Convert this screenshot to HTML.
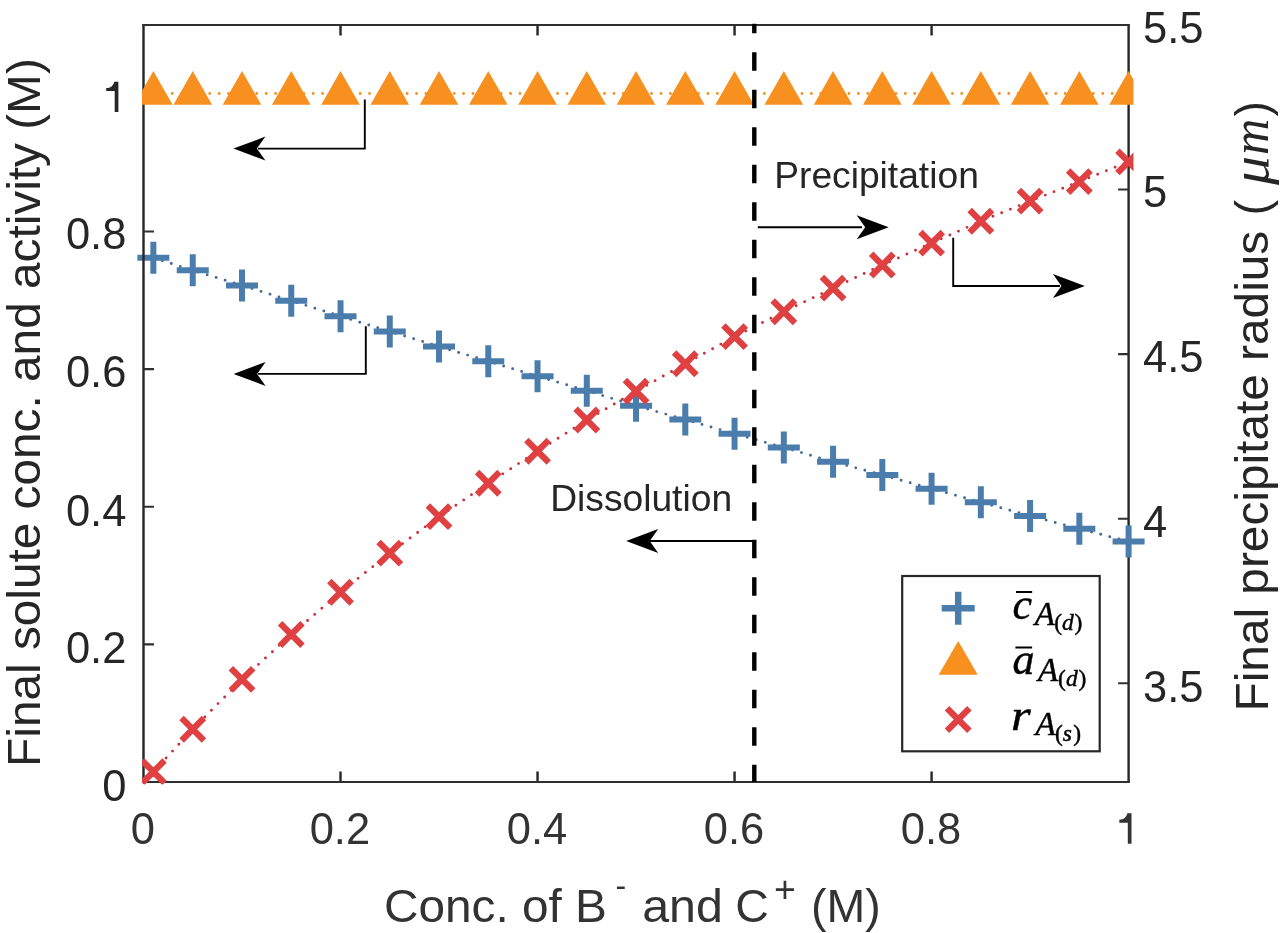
<!DOCTYPE html>
<html><head><meta charset="utf-8"><style>
html,body{margin:0;padding:0;background:#fff;width:1280px;height:933px;overflow:hidden}
svg{display:block;filter:blur(0.5px)}
</style></head><body>
<svg width="1280" height="933" viewBox="0 0 1280 933">
<rect width="1280" height="933" fill="#fff"/>
<defs><clipPath id="cr"><rect x="142" y="0" width="991.5" height="784.5"/></clipPath></defs>
<path d="M1128.6 24.0V783.0" stroke="#262626" stroke-width="2.4" fill="none"/>
<path d="M1128.6 683.26H1118.1M1128.6 518.70H1118.1M1128.6 354.13H1118.1M1128.6 189.57H1118.1" stroke="#303030" stroke-width="2.1" fill="none"/>
<polyline points="153.35,257.80 192.75,270.30 242.01,285.50 291.26,300.75 340.52,316.25 389.77,331.50 439.03,346.60 488.28,361.25 537.54,376.25 586.79,390.75 636.05,405.75 685.30,419.60 734.56,433.75 783.81,447.50 833.07,461.75 882.32,475.00 931.58,488.75 980.83,502.30 1030.09,515.90 1079.34,528.75 1128.60,541.60" fill="none" stroke="#3d6a96" stroke-width="2.9" stroke-linecap="round" stroke-dasharray="0 9.4"/>
<path d="M137.35 257.80H169.35M153.35 241.80V273.80M176.75 270.30H208.75M192.75 254.30V286.30M226.01 285.50H258.01M242.01 269.50V301.50M275.26 300.75H307.26M291.26 284.75V316.75M324.52 316.25H356.52M340.52 300.25V332.25M373.77 331.50H405.77M389.77 315.50V347.50M423.03 346.60H455.03M439.03 330.60V362.60M472.28 361.25H504.28M488.28 345.25V377.25M521.54 376.25H553.54M537.54 360.25V392.25M570.79 390.75H602.79M586.79 374.75V406.75M620.05 405.75H652.05M636.05 389.75V421.75M669.30 419.60H701.30M685.30 403.60V435.60M718.56 433.75H750.56M734.56 417.75V449.75M767.81 447.50H799.81M783.81 431.50V463.50M817.07 461.75H849.07M833.07 445.75V477.75M866.32 475.00H898.32M882.32 459.00V491.00M915.58 488.75H947.58M931.58 472.75V504.75M964.83 502.30H996.83M980.83 486.30V518.30M1014.09 515.90H1046.09M1030.09 499.90V531.90M1063.34 528.75H1095.34M1079.34 512.75V544.75M1112.60 541.60H1144.60M1128.60 525.60V557.60" stroke="#4b7dac" stroke-width="6" fill="none"/>
<path d="M143.5 24.0V783.0M340.52 782.0V771.5M340.52 25.0V35.5M537.54 782.0V771.5M537.54 25.0V35.5M734.56 782.0V771.5M734.56 25.0V35.5M931.58 782.0V771.5M931.58 25.0V35.5" stroke="#262626" stroke-width="2.4" fill="none"/>
<path d="M142.3 25.0H1129.8M142.3 782.0H1129.8M143.5 644.36H154.0M143.5 506.73H154.0M143.5 369.09H154.0M143.5 231.45H154.0M143.5 93.82H154.0" stroke="#303030" stroke-width="2.1" fill="none"/>
<g clip-path="url(#cr)">
<polyline points="153.35,93.50 192.75,93.50 242.01,93.50 291.26,93.50 340.52,93.50 389.77,93.50 439.03,93.50 488.28,93.50 537.54,93.50 586.79,93.50 636.05,93.50 685.30,93.50 734.56,93.50 783.81,93.50 833.07,93.50 882.32,93.50 931.58,93.50 980.83,93.50 1030.09,93.50 1079.34,93.50 1128.60,93.50" fill="none" stroke="#f8901f" stroke-width="2.9" stroke-linecap="round" stroke-dasharray="0 9.4"/>
<path d="M153.35 71.0L134.05 104.8L172.65 104.8ZM192.75 71.0L173.45 104.8L212.06 104.8ZM242.01 71.0L222.71 104.8L261.31 104.8ZM291.26 71.0L271.96 104.8L310.56 104.8ZM340.52 71.0L321.22 104.8L359.82 104.8ZM389.77 71.0L370.47 104.8L409.07 104.8ZM439.03 71.0L419.73 104.8L458.33 104.8ZM488.28 71.0L468.98 104.8L507.58 104.8ZM537.54 71.0L518.24 104.8L556.84 104.8ZM586.79 71.0L567.50 104.8L606.09 104.8ZM636.05 71.0L616.75 104.8L655.35 104.8ZM685.30 71.0L666.00 104.8L704.60 104.8ZM734.56 71.0L715.26 104.8L753.86 104.8ZM783.81 71.0L764.51 104.8L803.11 104.8ZM833.07 71.0L813.77 104.8L852.37 104.8ZM882.32 71.0L863.02 104.8L901.62 104.8ZM931.58 71.0L912.28 104.8L950.88 104.8ZM980.83 71.0L961.53 104.8L1000.13 104.8ZM1030.09 71.0L1010.79 104.8L1049.39 104.8ZM1079.34 71.0L1060.04 104.8L1098.64 104.8ZM1128.60 71.0L1109.30 104.8L1147.90 104.8Z" fill="#f8901f"/>
<polyline points="153.35,771.80 192.75,729.20 242.01,679.40 291.26,634.50 340.52,592.30 389.77,553.10 439.03,516.60 488.28,483.25 537.54,451.25 586.79,420.00 636.05,391.25 685.30,363.75 734.56,336.60 783.81,311.70 833.07,288.10 882.32,265.00 931.58,243.10 980.83,221.20 1030.09,201.10 1079.34,181.60 1128.60,161.90" fill="none" stroke="#c8303a" stroke-width="2.9" stroke-linecap="round" stroke-dasharray="0 9.4"/>
<path d="M142.15 760.60L164.55 783.00M142.15 783.00L164.55 760.60M181.56 718.00L203.95 740.40M181.56 740.40L203.95 718.00M230.81 668.20L253.21 690.60M230.81 690.60L253.21 668.20M280.06 623.30L302.46 645.70M280.06 645.70L302.46 623.30M329.32 581.10L351.72 603.50M329.32 603.50L351.72 581.10M378.57 541.90L400.97 564.30M378.57 564.30L400.97 541.90M427.83 505.40L450.23 527.80M427.83 527.80L450.23 505.40M477.08 472.05L499.48 494.45M477.08 494.45L499.48 472.05M526.34 440.05L548.74 462.45M526.34 462.45L548.74 440.05M575.59 408.80L598.00 431.20M575.59 431.20L598.00 408.80M624.85 380.05L647.25 402.45M624.85 402.45L647.25 380.05M674.10 352.55L696.50 374.95M674.10 374.95L696.50 352.55M723.36 325.40L745.76 347.80M723.36 347.80L745.76 325.40M772.61 300.50L795.01 322.90M772.61 322.90L795.01 300.50M821.87 276.90L844.27 299.30M821.87 299.30L844.27 276.90M871.12 253.80L893.52 276.20M871.12 276.20L893.52 253.80M920.38 231.90L942.78 254.30M920.38 254.30L942.78 231.90M969.63 210.00L992.03 232.40M969.63 232.40L992.03 210.00M1018.89 189.90L1041.29 212.30M1018.89 212.30L1041.29 189.90M1068.14 170.40L1090.54 192.80M1068.14 192.80L1090.54 170.40M1117.40 150.70L1139.80 173.10M1117.40 173.10L1139.80 150.70" stroke="#df4042" stroke-width="6.3" fill="none"/>
</g>
<line x1="754.3" y1="14.7" x2="754.3" y2="782.0" stroke="#000" stroke-width="4.4" stroke-dasharray="18.5 19"/>
<rect x="750" y="0" width="9" height="23.8" fill="#fff"/>
<text x="126.4" y="800.80" font-family="Liberation Sans, sans-serif" font-size="43.5" text-anchor="end" fill="#262626">0</text>
<text x="126.4" y="662.96" font-family="Liberation Sans, sans-serif" font-size="43.5" text-anchor="end" fill="#262626">0.2</text>
<text x="126.4" y="525.63" font-family="Liberation Sans, sans-serif" font-size="43.5" text-anchor="end" fill="#262626">0.4</text>
<text x="126.4" y="386.94" font-family="Liberation Sans, sans-serif" font-size="43.5" text-anchor="end" fill="#262626">0.6</text>
<text x="126.4" y="249.30" font-family="Liberation Sans, sans-serif" font-size="43.5" text-anchor="end" fill="#262626">0.8</text>
<path d="M118.40 81.72V112.12H114.70V91.12H106.20V88.12C110.40 87.92 113.40 85.92 114.20 81.72Z" fill="#262626"/>
<text x="142.90" y="843.7" font-family="Liberation Sans, sans-serif" font-size="43.5" text-anchor="middle" fill="#333333">0</text>
<text x="339.92" y="843.7" font-family="Liberation Sans, sans-serif" font-size="43.5" text-anchor="middle" fill="#333333">0.2</text>
<text x="536.94" y="843.7" font-family="Liberation Sans, sans-serif" font-size="43.5" text-anchor="middle" fill="#333333">0.4</text>
<text x="733.96" y="843.7" font-family="Liberation Sans, sans-serif" font-size="43.5" text-anchor="middle" fill="#333333">0.6</text>
<text x="930.98" y="843.7" font-family="Liberation Sans, sans-serif" font-size="43.5" text-anchor="middle" fill="#333333">0.8</text>
<path d="M1131.50 813.30V843.70H1127.80V822.70H1119.30V819.70C1123.50 819.50 1126.50 817.50 1127.30 813.30Z" fill="#333333"/>
<text x="1143.0" y="702.01" font-family="Liberation Sans, sans-serif" font-size="43.5" fill="#262626">3.5</text>
<text x="1143.0" y="537.35" font-family="Liberation Sans, sans-serif" font-size="43.5" fill="#262626">4</text>
<text x="1143.0" y="372.38" font-family="Liberation Sans, sans-serif" font-size="43.5" fill="#262626">4.5</text>
<text x="1143.0" y="207.42" font-family="Liberation Sans, sans-serif" font-size="43.5" fill="#262626">5</text>
<text x="1143.0" y="42.50" font-family="Liberation Sans, sans-serif" font-size="43.5" fill="#262626">5.5</text>
<path d="M364.8 99.4V148.6H258M365.8 326.3V373.9H258M754 541H650M757.8 227.3H862M953.2 237.7V286H1060" stroke="#000" stroke-width="1.9" fill="none"/>
<path d="M233.40 148.60L265.40 136.60L256.90 148.60L265.40 160.60ZM233.60 373.90L265.60 361.90L257.10 373.90L265.60 385.90ZM626.20 541.00L658.20 529.00L649.70 541.00L658.20 553.00ZM888.70 227.30L856.70 215.30L865.20 227.30L856.70 239.30ZM1084.90 286.00L1052.90 274.00L1061.40 286.00L1052.90 298.00Z" fill="#000"/>
<text x="774.2" y="187.8" font-family="Liberation Sans, sans-serif" font-size="37.2" fill="#262626">Precipitation</text>
<text x="550.2" y="511.3" font-family="Liberation Sans, sans-serif" font-size="37.2" fill="#262626">Dissolution</text>
<rect x="902.2" y="576" width="197.5" height="175.3" fill="#fff" stroke="#262626" stroke-width="2.2"/>
<path d="M941.7 608.3H974.7M958.2 591.8V624.8" stroke="#4b7dac" stroke-width="6.5"/>
<path d="M958.2 641.1L938.7 674.8L977.7 674.8Z" fill="#f8901f"/>
<path d="M947.0 708.3L969.4000000000001 730.7M947.0 730.7L969.4000000000001 708.3" stroke="#df4042" stroke-width="6.3"/>
<text x="1012.40" y="618.60" font-family="Liberation Serif, serif" font-style="italic" stroke="#000" stroke-width="0.45" font-size="44" fill="#000">c</text>
<text x="1034.70" y="624.50" font-family="Liberation Serif, serif" font-style="italic" stroke="#000" stroke-width="0.45" font-size="33" fill="#000">A</text>
<text x="1054.20" y="630.20" font-family="Liberation Serif, serif" stroke="#000" stroke-width="0.45" font-size="23.5" fill="#000">(</text><text x="1062.00" y="630.20" font-family="Liberation Serif, serif" font-style="italic" stroke="#000" stroke-width="0.45" font-size="23.5" fill="#000">d</text><text x="1074.50" y="630.20" font-family="Liberation Serif, serif" stroke="#000" stroke-width="0.45" font-size="23.5" fill="#000">)</text>
<text x="1012.50" y="674.20" font-family="Liberation Serif, serif" font-style="italic" stroke="#000" stroke-width="0.45" font-size="44" fill="#000">a</text>
<text x="1038.00" y="680.60" font-family="Liberation Serif, serif" font-style="italic" stroke="#000" stroke-width="0.45" font-size="33" fill="#000">A</text>
<text x="1058.10" y="685.90" font-family="Liberation Serif, serif" stroke="#000" stroke-width="0.45" font-size="23.5" fill="#000">(</text><text x="1065.90" y="685.90" font-family="Liberation Serif, serif" font-style="italic" stroke="#000" stroke-width="0.45" font-size="23.5" fill="#000">d</text><text x="1078.40" y="685.90" font-family="Liberation Serif, serif" stroke="#000" stroke-width="0.45" font-size="23.5" fill="#000">)</text>
<text transform="translate(1010.90 730.10) scale(1.15 1)" font-family="Liberation Serif, serif" font-style="italic" stroke="#000" stroke-width="0.45" font-size="44" fill="#000">r</text>
<text x="1035.40" y="735.30" font-family="Liberation Serif, serif" font-style="italic" stroke="#000" stroke-width="0.45" font-size="33" fill="#000">A</text>
<text x="1054.90" y="741.20" font-family="Liberation Serif, serif" stroke="#000" stroke-width="0.45" font-size="23.5" fill="#000">(</text><text x="1062.70" y="741.20" font-family="Liberation Serif, serif" font-style="italic" stroke="#000" stroke-width="0.45" font-size="23.5" fill="#000">s</text><text x="1073.20" y="741.20" font-family="Liberation Serif, serif" stroke="#000" stroke-width="0.45" font-size="23.5" fill="#000">)</text>
<path d="M1016 592H1032.2M1015.4 647.5H1032.1" stroke="#000" stroke-width="2"/>
<text transform="translate(40.1 766.9) rotate(-90) scale(1.0275 1)" font-family="Liberation Sans, sans-serif" font-size="46.5" fill="#262626">Final solute conc. and activity (M)</text>
<text transform="translate(1267.9 711.5) rotate(-90) scale(1.028 1)" font-family="Liberation Sans, sans-serif" font-size="46.5" fill="#262626">Final precipitate radius</text>
<text transform="translate(1267.9 215.60) rotate(-90)" font-family="Liberation Sans, sans-serif" font-size="46.5" fill="#262626">(</text>
<text transform="translate(1267.9 184.90) rotate(-90) scale(1.09 1)" font-family="Liberation Serif, serif" font-style="italic" font-size="53" fill="#262626">μ</text>
<text transform="translate(1267.9 154.90) rotate(-90) scale(0.95 1)" font-family="Liberation Serif, serif" font-style="italic" font-size="53" fill="#262626">m</text>
<text transform="translate(1267.9 116.40) rotate(-90)" font-family="Liberation Sans, sans-serif" font-size="46.5" fill="#262626">)</text>
<text transform="translate(384.0 922) scale(1.027 1)" font-family="Liberation Sans, sans-serif" font-size="46.5" fill="#333333">Conc. of B</text>
<text x="615.4" y="896.4" font-family="Liberation Sans, sans-serif" font-size="32" fill="#333333">-</text>
<text transform="translate(642.2 922) scale(1.04 1)" font-family="Liberation Sans, sans-serif" font-size="46.5" fill="#333333">and</text>
<text x="735.2" y="922" font-family="Liberation Sans, sans-serif" font-size="46.5" fill="#333333">C</text>
<text x="774.1" y="901.55" font-family="Liberation Sans, sans-serif" font-size="37.5" fill="#333333">+</text>
<text x="811" y="922" font-family="Liberation Sans, sans-serif" font-size="46.5" fill="#333333">(M)</text>
</svg></body></html>
